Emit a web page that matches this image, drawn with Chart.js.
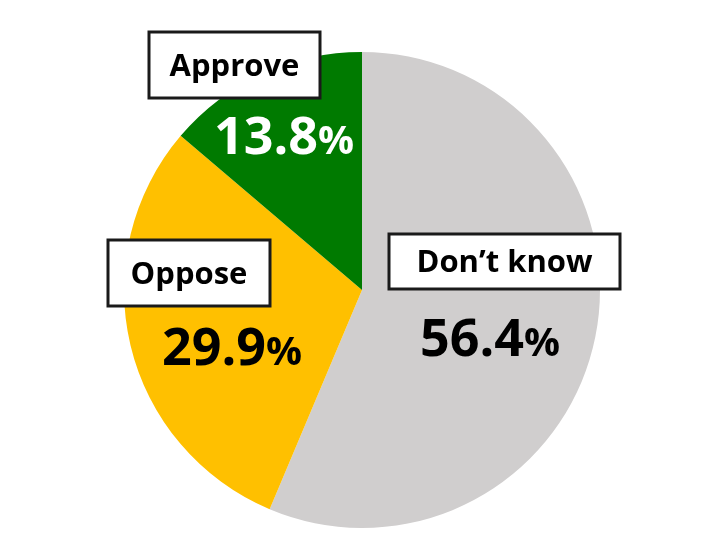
<!DOCTYPE html>
<html>
<head>
<meta charset="utf-8">
<script src="https://cdn.jsdelivr.net/npm/chart.js@4"></script>
<style>
  html, body { margin: 0; padding: 0; background: #fff; }
  #wrap { width: 719px; height: 559px; }
</style>
</head>
<body>
<div id="wrap"><canvas id="chart-pie"></canvas></div>
<script>
var labels = ['Don\u2019t know', 'Oppose', 'Approve'];
var values = [56.4, 29.9, 13.8];
var colors = ['#D0CECE', '#FFC000', '#007A00'];

// where each label box and percentage goes (box x,y,w,h; percentage centre)
var spots = [
    {box: [389, 234, 231, 55], pct: [490, 338], pctColor: '#000'},
    {box: [108, 240, 162, 66], pct: [232, 347], pctColor: '#000'},
    {box: [149, 32, 171, 66], pct: [284, 136], pctColor: '#fff'}
];

var FONT = '"Open Sans", "DejaVu Sans", sans-serif';

var labelPlugin = {
    id: 'boxLabels',
    afterDatasetsDraw: function(chart) {
        var ctx = chart.ctx;
        ctx.save();
        for (var i = 0; i < labels.length; i++) {
            var s = spots[i];
            var b = s.box;
            ctx.fillStyle = '#fff';
            ctx.fillRect(b[0], b[1], b[2], b[3]);
            ctx.lineWidth = 3;
            ctx.strokeStyle = '#1a1a1a';
            ctx.strokeRect(b[0], b[1], b[2], b[3]);

            ctx.fillStyle = '#000';
            ctx.font = 'bold 31px ' + FONT;
            ctx.textAlign = 'center';
            ctx.textBaseline = 'middle';
            ctx.fillText(labels[i], b[0] + b[2] / 2, b[1] + b[3] / 2 + 2);

            // number big, percent sign smaller
            var num = values[i].toFixed(1);
            ctx.font = 'bold 52px ' + FONT;
            var w1 = ctx.measureText(num).width;
            ctx.font = 'bold 40px ' + FONT;
            var w2 = ctx.measureText('%').width;
            var x0 = s.pct[0] - (w1 + w2) / 2;
            ctx.textAlign = 'left';
            ctx.textBaseline = 'alphabetic';
            ctx.fillStyle = s.pctColor;
            ctx.font = 'bold 52px ' + FONT;
            ctx.fillText(num, x0, s.pct[1] + 18);
            ctx.font = 'bold 40px ' + FONT;
            ctx.fillText('%', x0 + w1, s.pct[1] + 18);
        }
        ctx.restore();
    }
};

new Chart(document.getElementById('chart-pie'), {
    type: 'pie',
    data: {
        labels: labels,
        datasets: [{
            data: values,
            backgroundColor: colors,
            borderWidth: 0
        }]
    },
    options: {
        responsive: true,
        maintainAspectRatio: false,
        animation: false,
        layout: { padding: { left: 124, right: 119, top: 52, bottom: 31 } },
        plugins: {
            legend: { display: false },
            tooltip: { enabled: false }
        }
    },
    plugins: [labelPlugin]
});
</script>
</body>
</html>
